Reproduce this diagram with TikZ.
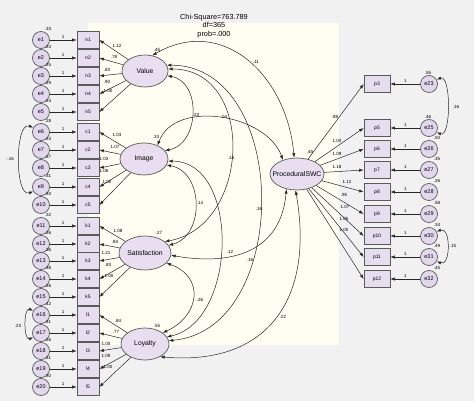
\documentclass[tikz,border=0pt]{standalone}
\usepackage{fontspec}
\setmainfont{Liberation Sans}
\usetikzlibrary{arrows.meta,shapes.geometric}
\definecolor{bgc}{HTML}{F1F1F1}
\definecolor{panel}{HTML}{FDFDF1}
\definecolor{boxfill}{HTML}{E6DDEF}
\definecolor{circfill}{HTML}{E3D7EE}
\definecolor{ellfill}{HTML}{E8DEF0}
\definecolor{edgec}{HTML}{5A5A5A}
\begin{document}
\begin{tikzpicture}[x=1pt,y=1pt,
  obs/.style={draw=edgec, fill=boxfill, rectangle, minimum width=22pt, minimum height=17pt, inner sep=0pt, font=\fontsize{5}{6}\selectfont, line width=0.7pt},
  robs/.style={obs, minimum width=26pt},
  err/.style={draw=edgec, fill=circfill, circle, minimum size=17pt, inner sep=0pt, font=\fontsize{5.5}{6}\selectfont, line width=0.7pt},
  lat/.style={draw=edgec, fill=ellfill, ellipse, minimum width=46pt, minimum height=32pt, inner sep=0pt, font=\fontsize{6.8}{7}\selectfont, line width=0.7pt},
  arr/.style={-{Latex[length=4.5pt,width=3.2pt]}, line width=0.5pt, draw=black!85},
  cov/.style={{Latex[length=4.5pt,width=3.2pt]}-{Latex[length=4.5pt,width=3.2pt]}, line width=0.5pt, draw=black!85},
  lab/.style={font=\fontsize{4.5}{5}\selectfont, inner sep=0pt},
]
\fill[bgc] (0,0) rectangle (474,-401);
\useasboundingbox (0,0) rectangle (474,-401);
\fill[panel] (88,-23) rectangle (339,-345);

\node[align=center, font=\fontsize{7.3}{8.2}\selectfont, inner sep=0pt] (title) at (214,-26) {Chi-Square=763.789\\df=365\\prob=.000};

% latent variables
\node[lat] (V) at (145,-71) {\makebox[0pt]{Value}};
\node[lat, minimum width=48pt] (I) at (144,-159) {\makebox[0pt]{Image}};
\node[lat, minimum width=52pt, minimum height=34pt] (S) at (145,-253) {\makebox[0pt]{Satisfaction}};
\node[lat, minimum width=48pt] (L) at (145,-344) {\makebox[0pt]{Loyalty}};
\node[lat, minimum width=54pt] (P) at (297,-174) {\makebox[0pt]{ProceduralSWC}};

% left indicators and errors
\foreach \ei/\bx/\y/\vv in {1/n1/40/.33, 2/n2/58/.24, 3/n3/76/.25, 4/n4/94/.29, 5/n5/112/.24,
  6/c1/132/.28, 7/c2/150/.24, 8/c3/168/.27, 9/c4/187/.31, 10/c5/205/.33,
  11/k1/226/.32, 12/k2/244/.26, 13/k3/261/.36, 14/k4/279/.38, 15/k5/297/.26,
  16/l1/315/.42, 17/l2/333/.31, 18/l3/351/.26, 19/l4/369/.31, 20/l5/387/.30}{
  \node[err] (e\ei) at (41,-\y) {e\ei};
  \node[obs] (\bx) at (88,-\y) {\bx};
  \draw[arr] (e\ei) -- (\bx) node[lab, midway, above=1.2pt] {1};
  \node[lab] (ve\ei) at (48,-\y+11.5) {\vv};
}

% right indicators and errors
\foreach \ei/\bx/\y/\vv/\vx in {23/p3/84/.55/428, 25/p5/128/.46/428, 26/p6/149/.50/437, 27/p7/170/.35/437,
  28/p8/192/.26/437, 29/p9/214/.58/437, 30/p10/236/.34/437, 31/p11/257/.49/437, 32/p12/279/.45/437}{
  \node[err] (e\ei) at (429,-\y) {e\ei};
  \node[robs] (\bx) at (377,-\y) {\bx};
  \draw[arr] (e\ei) -- (\bx) node[lab, midway, above=1.2pt] {1};
  \node[lab] (ve\ei) at (\vx,-\y+11.5) {\vv};
}

% regression paths
\foreach \bx in {n1,n2,n3,n4,n5} \draw[arr] (V) -- (\bx.east);
\foreach \bx in {c1,c2,c3,c4,c5} \draw[arr] (I) -- (\bx.east);
\foreach \bx in {k1,k2,k3,k4,k5} \draw[arr] (S) -- (\bx.east);
\foreach \bx in {l1,l2,l3,l4,l5} \draw[arr] (L) -- (\bx.east);
\foreach \bx in {p3,p5,p6,p7,p8,p9,p10,p11,p12} \draw[arr] (P) -- (\bx.west);

% loading labels
\foreach \tx/\x/\y [count=\k] in {1.12/117/46, .78/114/57, .83/107/70, .90/107/82, 1.00/108/91,
  1.03/117/135, 1.07/115/147, 1.03/104/159, 1.06/104/171, 1.00/107/182,
  1.08/118/231, .84/115/242, 1.21/106/253, .83/108/265, 1.00/109/276,
  .84/118/321, .77/116/332, 1.00/106/344, 1.09/106/356, 1.00/108/367,
  .88/335/117, 1.00/337/141, 1.09/337/154, 1.18/337/167, 1.12/347/182,
  .95/344/195, 1.07/345/207, 1.05/344/219, 1.00/344/230}
  \node[lab] (w\k) at (\x,-\y) {\tx};

% latent variances
\node[lab] (vV) at (157,-50) {.45};
\node[lab] (vI) at (156,-137) {.33};
\node[lab] (vS) at (159,-233) {.27};
\node[lab] (vL) at (157,-326) {.55};
\node[lab] (vP) at (310,-152) {.45};

% covariances between latents
\draw[cov] (V.65) to[out=30, in=95, looseness=1.2] (P.100);
\draw[cov] (V.-12) to[out=-10, in=10, looseness=1.2] (I.22);
\draw[cov] (I.45) to[out=70, in=110, looseness=1] (P.135);
\draw[cov] (V.5) to[out=0, in=10, looseness=1.3] (S.30);
\draw[cov] (V.15) to[out=0, in=5, looseness=1.15] (L.8);
\draw[cov] (I.-15) to[out=-10, in=15, looseness=1.2] (S.18);
\draw[cov] (I.-5) to[out=0, in=12, looseness=1.05] (L.18);
\draw[cov] (S.-5) to[out=-10, in=-95, looseness=1.2] (P.-125);
\draw[cov] (S.-25) to[out=-20, in=25, looseness=1.5] (L.32);
\draw[cov] (L.-40) to[out=-5, in=-80, looseness=1.3] (P.-95);

\node[lab] (cVP) at (256,-62) {.11};
\node[lab] (cVI) at (196,-115) {.23};
\node[lab] (cIP) at (224,-117) {.04};
\node[lab] (cVS) at (231,-158) {.14};
\node[lab] (cIS) at (200,-203) {.14};
\node[lab] (cVL) at (259,-209) {.16};
\node[lab] (cIL) at (230,-252) {.12};
\node[lab] (cSP) at (250,-260) {.16};
\node[lab] (cSL) at (200,-300) {.26};
\node[lab] (cLP) at (283,-317) {.22};

% error covariances
\draw[cov] (e6.150) to[out=160, in=200, looseness=0.8] (e9.210);
\node[lab] (c69) at (10,-159) {-.16};
\draw[cov] (e16.150) to[out=160, in=200, looseness=1] (e17.210);
\node[lab] (c1617) at (18,-326) {.23};
\draw[cov] (e23.30) to[out=20, in=-20, looseness=0.75] (e25.-30);
\node[lab] (c2325) at (456,-107) {.16};
\draw[cov] (e30.30) to[out=20, in=-20, looseness=1.3] (e31.-30);
\node[lab] (c3031) at (453,-246) {.15};
\end{tikzpicture}
\end{document}
